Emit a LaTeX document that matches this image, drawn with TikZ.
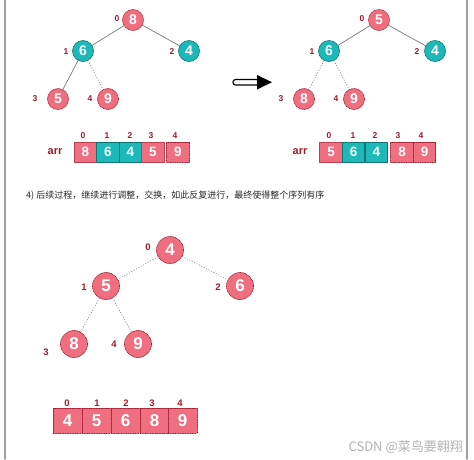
\documentclass[tikz,border=0pt]{standalone}
\usepackage{fontspec}
\setmainfont{Liberation Sans}
\newfontfamily\cjk{Noto Sans CJK SC}
\usetikzlibrary{arrows.meta,calc}

\definecolor{heappink}{HTML}{EF6F80}
\definecolor{heapteal}{HTML}{1DB8B8}
\definecolor{pinkedge}{HTML}{B8404F}
\definecolor{tealedge}{HTML}{0E7474}
\definecolor{idxred}{HTML}{9E1C2C}
\definecolor{linkgray}{HTML}{7A7A7A}

\tikzset{
  heapnode/.style={circle, inner sep=0pt, minimum size=21pt, text=white,
    font=\bfseries\fontsize{14}{14}\selectfont},
  pinknode/.style={heapnode, fill=heappink, draw=pinkedge, line width=0.6pt},
  tealnode/.style={heapnode, fill=heapteal, draw=tealedge, line width=0.6pt},
  donenode/.style={heapnode, fill=heappink, draw=idxred, densely dotted, line width=0.7pt},
  bignode/.style={minimum size=27pt, font=\bfseries\fontsize{17}{17}\selectfont},
  idx/.style={text=idxred, font=\bfseries\fontsize{8.5}{8.5}\selectfont, inner sep=0pt},
  bigidx/.style={idx, font=\bfseries\fontsize{9.5}{9.5}\selectfont},
  cell/.style={rectangle, inner sep=0pt, minimum width=22.5pt, minimum height=20pt,
    text=white, font=\bfseries\fontsize{13.5}{13.5}\selectfont},
  pinkcell/.style={cell, fill=heappink, draw=pinkedge, line width=0.6pt},
  tealcell/.style={cell, fill=heapteal, draw=tealedge, line width=0.6pt},
  donecell/.style={cell, fill=heappink, draw=idxred, densely dotted, line width=0.7pt},
  bigcell/.style={minimum width=28.8pt, minimum height=25pt, font=\bfseries\fontsize{17}{17}\selectfont},
  link/.style={draw=linkgray, line width=0.7pt},
  dotlink/.style={draw=linkgray!85, dotted, line width=0.7pt},
}

\begin{document}
\begin{tikzpicture}[x=1pt, y=-1pt, line cap=round, line join=round]
  \useasboundingbox (0,0) rectangle (474,459);
  \fill[white] (0,0) rectangle (474,459);
  % page frame
  \draw[gray!75, line width=1.5pt] (5,0) -- (5,459);
  \draw[gray!75, line width=1.5pt] (467,0) -- (467,459);

  % ---- step 1: before swap
  \node[pinknode] (a0) at (133,20) {8};
  \node[tealnode] (a1) at (83,51) {6};
  \node[tealnode] (a2) at (189,51) {4};
  \node[pinknode] (a3) at (58,99) {5};
  \node[donenode] (a4) at (108,99) {9};
  \draw[link] (a0) -- (a1);
  \draw[link] (a0) -- (a2);
  \draw[link] (a1) -- (a3);
  \draw[dotlink] (a1) -- (a4);
  \node[idx] at (117,19) {0};
  \node[idx] at (66,52) {1};
  \node[idx] at (172,52) {2};
  \node[idx] at (35,99) {3};
  \node[idx] at (90,99) {4};

  \node[text=idxred, font=\bfseries\fontsize{11}{11}\selectfont] (arrA) at (55,152) {arr};
  \node[pinkcell] (ca0) at (85.5,152) {8};
  \node[tealcell] (ca1) at (108,152) {6};
  \node[tealcell] (ca2) at (130.5,152) {4};
  \node[pinkcell] (ca3) at (153,152) {5};
  \node[donecell] (ca4) at (178,152) {9};
  \foreach \i/\x in {0/83,1/107,2/130,3/151,4/175}
    \node[idx] at (\x,136) {\i};

  % ---- arrow between the two steps
  \draw[line width=1.1pt, rounded corners=2.5pt] (233,79.5) rectangle (259,85);
  \fill[black] (257,75) -- (272,82.2) -- (257,89.5) -- cycle;

  % ---- step 2: after swap
  \node[pinknode] (b0) at (379,20) {5};
  \node[tealnode] (b1) at (329,51) {6};
  \node[tealnode] (b2) at (435,51) {4};
  \node[donenode] (b3) at (304,99) {8};
  \node[donenode] (b4) at (354,99) {9};
  \draw[link] (b0) -- (b1);
  \draw[link] (b0) -- (b2);
  \draw[dotlink] (b1) -- (b3);
  \draw[dotlink] (b1) -- (b4);
  \node[idx] at (362,19) {0};
  \node[idx] at (312,52) {1};
  \node[idx] at (417,52) {2};
  \node[idx] at (281,99) {3};
  \node[idx] at (336,99) {4};

  \node[text=idxred, font=\bfseries\fontsize{11}{11}\selectfont] (arrB) at (300,152) {arr};
  \node[pinkcell] (cb0) at (331,152) {5};
  \node[tealcell] (cb1) at (353.5,152) {6};
  \node[tealcell] (cb2) at (376.5,152) {4};
  \node[donecell] (cb3) at (402,152) {8};
  \node[donecell] (cb4) at (424.5,152) {9};
  \foreach \i/\x in {0/329,1/353,2/375,3/398,4/421}
    \node[idx] at (\x,136) {\i};

  % ---- caption
  \node[anchor=west, inner sep=0pt, text=black!85, font=\cjk\fontsize{9}{9}\selectfont] (note) at (26,196)
    {4) 后续过程，继续进行调整，交换，如此反复进行，最终使得整个序列有序};

  % ---- step 3: sorted
  \node[donenode, bignode] (c0) at (170,250) {4};
  \node[donenode, bignode] (c1) at (106,286) {5};
  \node[donenode, bignode] (c2) at (240,286) {6};
  \node[donenode, bignode] (c3) at (74,344) {8};
  \node[donenode, bignode] (c4) at (138,344) {9};
  \draw[dotlink] (c0) -- (c1);
  \draw[dotlink] (c0) -- (c2);
  \draw[dotlink] (c1) -- (c3);
  \draw[dotlink] (c1) -- (c4);
  \node[bigidx] at (148,247) {0};
  \node[bigidx] at (84,287) {1};
  \node[bigidx] at (218,287) {2};
  \node[bigidx] at (46,352) {3};
  \node[bigidx] at (114,344) {4};

  \foreach \i/\v/\x in {0/4/67.5,1/5/96.5,2/6/125.5,3/8/154.5,4/9/182.5} {
    \node[donecell, bigcell] (cc\i) at (\x,420.5) {\v};
  }
  \foreach \i/\x in {0/67,1/97,2/126,3/152,4/180}
    \node[bigidx] at (\x,403) {\i};

  % ---- watermark
  \node[anchor=east, inner sep=0pt, text=gray!60, font=\cjk\fontsize{13}{13}\selectfont] (mark) at (463,447)
    {CSDN @菜鸟要翱翔};
\end{tikzpicture}
\end{document}
